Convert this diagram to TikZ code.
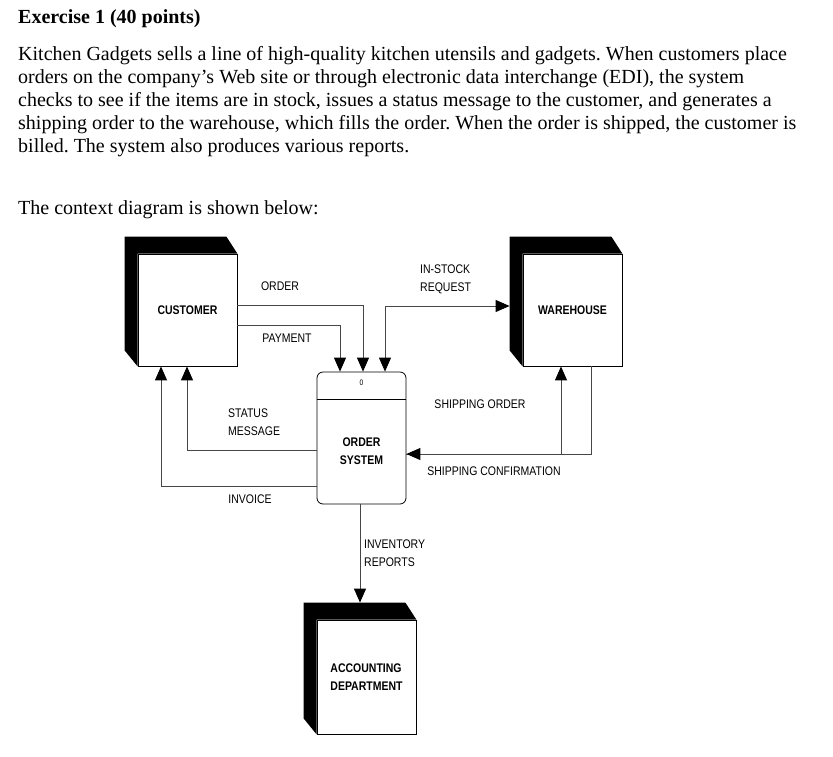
\documentclass[tikz,border=0pt]{standalone}
\usepackage{fontspec}
\setmainfont{Liberation Serif}
\newfontfamily\lblfont[FakeStretch=0.84]{Liberation Sans}
\usetikzlibrary{arrows.meta}
\definecolor{lnc}{RGB}{70,70,70}
\newcommand\entshadow[1]{\fill[black] ([xshift=-13pt,yshift=17pt]#1.north west) -- ([xshift=-11pt,yshift=17pt]#1.north east) -- (#1.north east) -- (#1.north west) -- (#1.south west) -- ([xshift=-13pt,yshift=16pt]#1.south west) -- cycle;}
\frenchspacing
\begin{document}
\begin{tikzpicture}[x=1pt,y=-1pt,
 body/.style={anchor=base west, inner sep=0pt, font=\fontsize{20}{23}\selectfont},
 entitybox/.style={draw=black, fill=white, line width=0.8pt, minimum width=99pt, minimum height=112pt, inner sep=0pt, font=\lblfont\bfseries\fontsize{12.5}{18}\selectfont, align=left},
 procbox/.style={draw=black, line width=0.8pt, rounded corners=6pt, minimum width=89pt, minimum height=132pt, inner sep=0pt},
 lbl/.style={inner sep=0pt, font=\lblfont\fontsize{12.5}{18}\selectfont, align=left},
 flow/.style={draw=lnc, line width=0.9pt, -{Triangle[width=12pt,length=14pt,color=black]}},
]
\useasboundingbox (0,0) rectangle (833,756);

% text
\node[body, font=\bfseries\fontsize{20}{23}\selectfont] (title) at (18,23) {Exercise 1 (40 points)};
\node[body] (l1) at (18,60) {Kitchen Gadgets sells a line of high-quality kitchen utensils and gadgets. When customers place};
\node[body] (l2) at (18,83) {orders on the company’s Web site or through electronic data interchange (EDI), the system};
\node[body] (l3) at (18,106) {checks to see if the items are in stock, issues a status message to the customer, and generates a};
\node[body] (l4) at (18,129) {shipping order to the warehouse, which fills the order. When the order is shipped, the customer is};
\node[body] (l5) at (18,152) {billed. The system also produces various reports.};
\node[body] (l6) at (18,214) {The context diagram is shown below:};

% entities
\node[entitybox] (cust) at (187.5,310) {CUSTOMER};
\entshadow{cust}
\node[entitybox] (wh) at (572.5,310) {WAREHOUSE};
\entshadow{wh}
\node[entitybox, minimum height=114pt] (acc) at (366.5,677) {ACCOUNTING\\DEPARTMENT};
\entshadow{acc}

% process
\node[procbox] (os) at (361.5,438) {};
\draw[black, line width=0.8pt] ([yshift=-28pt]os.north west) -- ([yshift=-28pt]os.north east);
\node[lbl, font=\lblfont\fontsize{8}{10}\selectfont] (osnum) at (361.5,383) {0};
\node[lbl, font=\lblfont\bfseries\fontsize{12.5}{18}\selectfont, align=center] (osname) at (361.5,451) {ORDER\\SYSTEM};

% flows
\draw[flow] ([yshift=5pt]cust.east) -| ([xshift=1.5pt]os.north);
\draw[flow] ([yshift=-15pt]cust.east) -| ([xshift=-21.5pt]os.north);
\draw[flow, {Triangle[width=12pt,length=14pt,color=black]}-{Triangle[width=12pt,length=14pt,color=black]}] ([xshift=23.5pt]os.north) |- ([xshift=-13pt,yshift=4pt]wh.west);
\draw[flow] ([yshift=-16pt]os.east) -| ([xshift=-11.5pt]wh.south);
\draw[flow] ([xshift=18.5pt]wh.south) |- ([yshift=-16pt]os.east);
\draw[flow] ([yshift=-12pt]os.west) -| ([xshift=-0.5pt]cust.south);
\draw[flow] ([yshift=-48pt]os.west) -| ([xshift=-26.5pt]cust.south);
\draw[flow] ([xshift=-1.5pt]os.south) -- ([xshift=-1.5pt,yshift=17pt]os.south |- acc.north);

% labels
\node[lbl] (lorder) at (280,286) {ORDER};
\node[lbl] (lpay) at (287,338) {PAYMENT};
\node[lbl, anchor=west] (lstock) at (420,279) {IN-STOCK\\REQUEST};
\node[lbl] (lship) at (480,404) {SHIPPING ORDER};
\node[lbl] (lconf) at (494,471) {SHIPPING CONFIRMATION};
\node[lbl, anchor=west] (lstat) at (228,422) {STATUS\\MESSAGE};
\node[lbl] (linv) at (250,499) {INVOICE};
\node[lbl, anchor=west] (linvr) at (364,553) {INVENTORY\\REPORTS};
\end{tikzpicture}
\end{document}
